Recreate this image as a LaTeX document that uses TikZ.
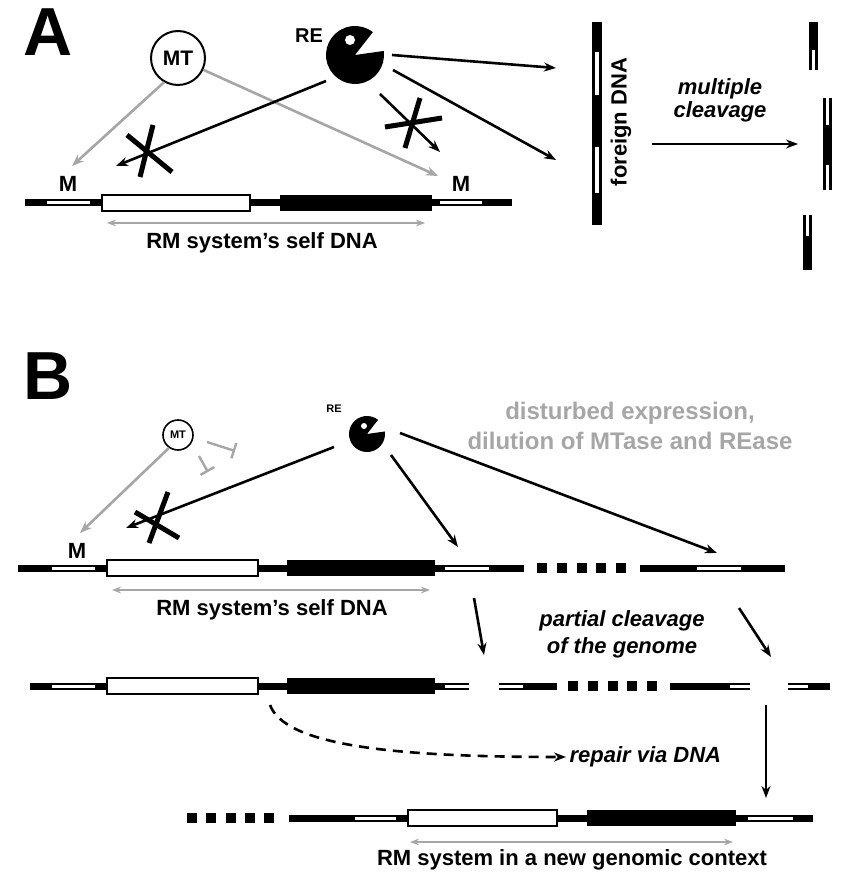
\documentclass[tikz,border=0pt]{standalone}
\usepackage{fontspec}
\setmainfont{Liberation Sans}
\usetikzlibrary{arrows.meta}
\definecolor{gr}{gray}{0.65}
\newcommand{\dnal}[3]{\draw[line width=7pt] (#1,#3) -- (#2,#3);}
\newcommand{\msite}[3]{\fill[black] (#1,#3-3.5) rectangle (#2,#3+3.5); \fill[white] (#1+2,#3-1.5) rectangle (#2-2,#3+1.5);}
\newcommand{\wbox}[3]{\draw[line width=1.8pt,fill=white] (#1,#3-8) rectangle (#2,#3+8);}
\newcommand{\bbox}[3]{\fill (#1,#3-8) rectangle (#2,#3+8);}
\newcommand{\dnadots}[3]{\foreach \i in {0,...,4} \fill ({#1+\i*(#2-#1)/4.6},#3-5) rectangle ++(10,10);}
\newcommand{\pac}[2]{\fill (#1) -- ++(-8:#2) arc (-8:308:#2) -- cycle;}
\begin{document}
\begin{tikzpicture}[x=1pt,y=-1pt,font=\bfseries,
  arr/.style={-{Stealth[length=12pt,width=9pt]},line width=2.6pt},
  garr/.style={arr,gr},
  xm/.style={line width=5pt},
  lbl/.style={font=\bfseries\fontsize{22}{24}\selectfont},
  ital/.style={font=\bfseries\itshape\fontsize{22}{27}\selectfont,align=center}]
\useasboundingbox (0,0) rectangle (860,874);
% ---------- A ----------
\node (la) at (48,32) {\fontsize{68}{68}\selectfont A};
\node[circle,draw,line width=2pt,minimum size=54pt,inner sep=0pt] (mt) at (178,58) {\fontsize{21}{21}\selectfont MT};
\coordinate (re) at (355,55);
\pac{re}{29}
\fill[white] (350,40) circle (5);
\node[font=\bfseries\fontsize{20}{20}\selectfont] at (309,36) {RE};
% DNA A
\dnal{25}{512}{203}
\msite{45}{92}{203} \msite{438}{484}{203}
\wbox{102}{250}{203} \bbox{280}{432}{203}
\node[lbl] at (68,184) {M};
\node[lbl] at (461,184) {M};
\draw[gr,line width=2.4pt,{Stealth[length=9pt]}-{Stealth[length=9pt]}] (107,223) -- (425,223);
\node[lbl] (selfA) at (262,243) {RM system's self DNA};
\draw[garr] (mt.-120) -- (72,166);
\draw[garr] (mt.-25) -- (438,176);
\draw[arr] (326,81) -- (116,166);
\draw[xm] (153,125) -- (140,177); \draw[xm] (127,135) -- (172,172);
\draw[arr] (380,94) -- (440,152);
\draw[xm] (420,98) -- (405,148); \draw[xm] (385,127) -- (442,118);
% foreign DNA
\fill (592,22) rectangle (602,225);
\fill[white] (595,52) rectangle (599,95);
\fill[white] (595,147) rectangle (599,193);
\node[font=\bfseries\fontsize{22}{22}\selectfont,rotate=90] (fd) at (621,122) {foreign DNA};
\draw[arr] (392,55) -- (556,68);
\draw[arr] (393,70) -- (556,160);
\node[ital] (mc) at (720,100) {multiple\\[-4pt]cleavage};
\draw[arr] (652,144) -- (798,144);
\fill (809,22) rectangle (818,70); \fill[white] (812,50) rectangle (815,70);
\fill (823,98) rectangle (832,190); \fill[white] (826,98) rectangle (829,125); \fill[white] (826,165) rectangle (829,190);
\fill (803,215) rectangle (812,270); \fill[white] (806,215) rectangle (809,236);
% ---------- B ----------
\node (lb) at (48,376) {\fontsize{68}{68}\selectfont B};
\node[circle,draw,line width=1.6pt,minimum size=30pt,inner sep=0pt] (mt2) at (178,435) {\fontsize{11}{11}\selectfont MT};
\coordinate (re2) at (367,434);
\pac{re2}{18}
\fill[white] (364,426) circle (3);
\node[font=\bfseries\fontsize{11}{11}\selectfont] at (334,409) {RE};
\node[font=\bfseries\fontsize{24}{30}\selectfont,text=gr,align=center] (dist) at (630,426) {disturbed expression,\\dilution of MTase and REase};
\draw[gr,line width=2.4pt,-{Bar[width=16pt]}] (207,442) -- (235,451);
\draw[gr,line width=2.4pt,-{Bar[width=16pt]}] (199,456) -- (208,472);
\draw[garr] (mt2.-125) -- (80,533);
\draw[arr] (334,447) -- (126,528);
\draw[xm] (168,492) -- (149,543); \draw[xm] (135,512) -- (179,538);
\draw[arr] (391,455) -- (458,547);
\draw[arr] (400,433) -- (717,553);
\node[lbl] at (77,551) {M};
% row B1
\dnal{18}{524}{568} \dnal{640}{785}{568}
\msite{50}{97}{568} \msite{443}{491}{568} \msite{695}{743}{568}
\wbox{107}{258}{568} \bbox{287}{435}{568}
\dnadots{537}{628}{568}
\draw[gr,line width=2.4pt,{Stealth[length=9pt]}-{Stealth[length=9pt]}] (112,590) -- (430,590);
\node[lbl] (selfB) at (272,610) {RM system's self DNA};
% row B2
\dnal{30}{469}{686} \dnal{499}{557}{686} \dnal{670}{750}{686} \dnal{788}{830}{686}
\msite{50}{97}{686}
\fill[white] (445,684.5) rectangle (469,687.5);
\fill[white] (499,684.5) rectangle (523,687.5);
\fill[white] (730,684.5) rectangle (750,687.5);
\fill[white] (788,684.5) rectangle (808,687.5);
\wbox{107}{258}{686} \bbox{287}{435}{686}
\dnadots{568}{659}{686}
\node[ital] (pc) at (622,634) {partial cleavage\\of the genome};
\draw[arr] (474,598) -- (484,655);
\draw[arr] (739,608) -- (771,657);
\draw[arr] (766,705) -- (766,798);
\coordinate (rs) at (270,705);
\node[ital,anchor=west] (rep) at (566,757) {repair via DNA};
\draw[line width=2.6pt,dash pattern=on 10pt off 7pt,-{Stealth[length=12pt,width=9pt]}] (rs) .. controls (285,745) and (390,757) .. (rep.west);
% row B3
\dnadots{187}{276}{818}
\dnal{289}{813}{818}
\msite{353}{398}{818} \msite{746}{795}{818}
\wbox{408}{557}{818} \bbox{587}{736}{818}
\draw[gr,line width=2.4pt,{Stealth[length=9pt]}-{Stealth[length=9pt]}] (410,842) -- (733,842);
\node[lbl] (newc) at (572,860) {RM system in a new genomic context};
\end{tikzpicture}
\end{document}
